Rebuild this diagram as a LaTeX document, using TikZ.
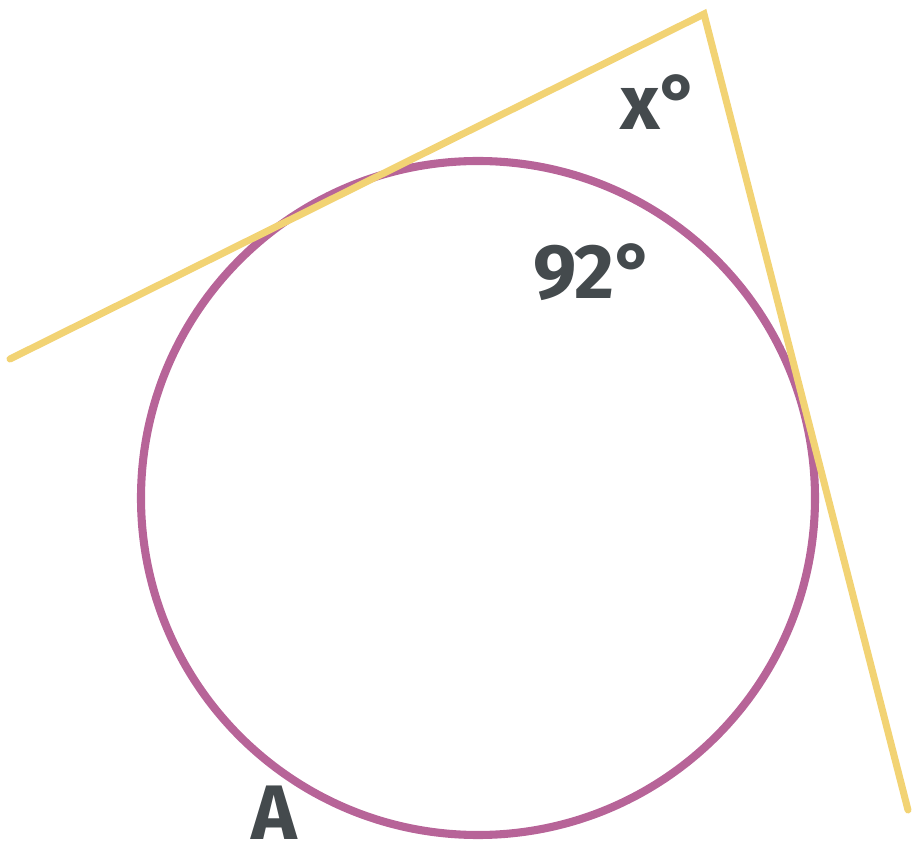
\documentclass[tikz,border=0pt]{standalone}
\usepackage{fontspec}
\setmainfont{Fira Sans}
\definecolor{jaune}{RGB}{242,211,116}
\definecolor{violet}{RGB}{183,100,152}
\definecolor{ardoise}{RGB}{68,74,77}
\begin{document}
\begin{tikzpicture}[x=0.02cm, y=-0.02cm]
\tikzstyle{tangente} = [draw=jaune, line width=4pt, line cap=round];
\tikzstyle{cercle} = [draw=violet, line width=4.6pt];
\tikzstyle{etiquette} = [text=ardoise, inner sep=0pt, font=\fontsize{44}{44}\selectfont\bfseries];
\useasboundingbox (0,0) rectangle (921,858);

\coordinate (O) at (478,498);
\coordinate (P) at (704,14);
\coordinate (g) at (10,359);
\coordinate (d) at (908,810);

\draw[cercle] (O) circle (337);
\draw[tangente] (g) -- (P) -- (d);

\node[etiquette] (x) at (660,102) {x°};
\node[etiquette] (a) at (594,272) {92°};
\node[etiquette, anchor=south] (A) at (274,840) {A};
\end{tikzpicture}
\end{document}
